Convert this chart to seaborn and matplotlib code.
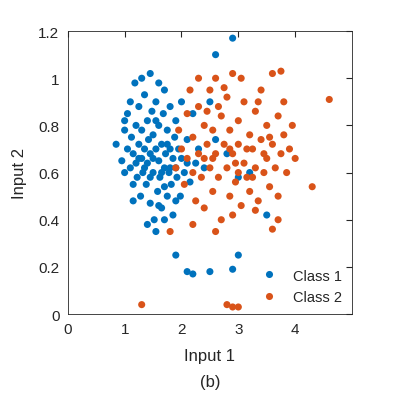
import matplotlib
matplotlib.use("Agg")
import matplotlib.pyplot as plt
import seaborn as sns
import pandas as pd

c1_x = [0.85,0.95,1.0,1.0,1.05,1.05,1.1,1.1,1.12,1.15,1.15,1.18,1.2,1.2,1.22,1.25,1.25,1.28,1.3,1.3,1.32,1.35,1.35,1.38,1.4,1.4,1.42,1.45,1.45,1.48,1.5,1.5,1.52,1.55,1.55,1.58,1.6,1.6,1.62,1.65,1.65,1.68,1.7,1.7,1.72,1.75,1.75,1.78,1.8,1.8,1.82,1.85,1.85,1.88,1.9,1.9,1.92,1.95,1.98,2.0,2.0,2.05,2.1,2.15,2.2,2.25,1.3,1.45,1.6,1.0,1.15,1.4,1.55,1.7,1.6,1.35,1.5,1.65,1.75,1.45,1.25,1.55,1.7,1.9,1.8,2.1,2.3,2.4,2.6,2.8,3.0,3.2,2.5,1.9,2.1,2.2,2.5,2.9,3.0,2.9,2.6,3.5]
c1_y = [0.72,0.65,0.78,0.60,0.85,0.70,0.62,0.90,0.75,0.55,0.68,0.98,0.80,0.64,0.58,0.72,0.88,0.50,0.66,0.78,0.60,0.93,0.70,0.55,0.82,0.64,0.74,0.47,0.68,0.86,0.60,0.76,0.40,0.70,0.90,0.52,0.65,0.80,0.58,0.72,0.45,0.85,0.62,0.95,0.68,0.50,0.78,0.60,0.70,0.88,0.55,0.66,0.42,0.75,0.62,0.82,0.58,0.70,0.50,0.66,0.90,0.60,0.74,0.56,0.85,0.64,1.0,1.02,0.98,0.82,0.48,0.38,0.35,0.40,0.46,0.62,0.66,0.60,0.72,0.58,0.66,0.82,0.54,0.48,0.62,0.64,0.70,0.62,0.74,0.68,0.58,0.60,0.90,0.25,0.18,0.17,0.18,0.19,0.25,1.17,1.10,0.42]
c2_x = [1.9,1.95,2.0,2.05,2.1,2.1,2.15,2.2,2.2,2.25,2.3,2.3,2.35,2.4,2.4,2.45,2.5,2.5,2.55,2.55,2.6,2.6,2.65,2.7,2.7,2.75,2.8,2.8,2.85,2.85,2.9,2.9,2.95,3.0,3.0,3.05,3.1,3.1,3.15,3.2,3.2,3.25,3.3,3.3,3.35,3.4,3.4,3.45,3.5,3.5,3.55,3.6,3.6,3.65,3.7,3.7,3.75,3.8,3.85,3.9,3.95,4.0,3.7,3.6,2.6,2.2,1.8,2.45,2.75,3.05,3.35,2.3,2.65,2.95,3.15,3.25,2.85,2.55,3.45,3.55,2.4,3.0,3.8,3.3,2.9,4.6,4.3,1.3,2.8,2.9,3.0,3.75]
c2_y = [0.62,0.78,0.70,0.55,0.85,0.66,0.95,0.60,0.75,0.48,0.88,0.68,0.58,0.80,0.45,0.72,0.62,0.95,0.52,0.78,0.68,1.0,0.58,0.84,0.40,0.72,0.62,0.92,0.50,0.78,0.68,1.02,0.56,0.82,0.72,0.46,0.64,0.90,0.58,0.76,0.52,0.70,0.86,0.62,0.48,0.74,0.95,0.60,0.80,0.66,0.54,0.72,1.02,0.62,0.84,0.50,0.68,0.76,0.60,0.70,0.80,0.66,0.40,0.36,0.35,0.38,0.35,0.86,0.96,1.0,0.9,1.0,0.88,0.64,0.70,0.58,0.70,0.66,0.68,0.75,0.66,0.60,0.90,0.44,0.42,0.91,0.54,0.04,0.04,0.03,0.03,1.03]

df = pd.DataFrame({
    "x": c1_x + c2_x,
    "y": c1_y + c2_y,
    "cls": ["Class 1"] * len(c1_x) + ["Class 2"] * len(c2_x),
})

sns.set_style("white")
plt.rcParams["font.family"] = ["Liberation Sans", "DejaVu Sans"]
fig = plt.figure(figsize=(4.06, 4.06), dpi=100)
ax = fig.add_axes([0.167, 0.224, 0.70, 0.697])
sns.scatterplot(data=df, x="x", y="y", hue="cls", palette=["#0072BD", "#D95319"],
                s=26, linewidth=0, ax=ax)
ax.set_xlim(0, 5)
ax.set_ylim(0, 1.2)
ax.set_xticks([0, 1, 2, 3, 4])
ax.set_yticks([0, 0.2, 0.4, 0.6, 0.8, 1.0, 1.2])
ax.set_yticklabels(["0", "0.2", "0.4", "0.6", "0.8", "1", "1.2"])
ax.tick_params(direction="in", length=4, labelsize=11, top=True, right=True,
               colors="#262626", pad=6)
for s in ax.spines.values():
    s.set_color("#262626")
    s.set_linewidth(0.6)
ax.set_xlabel("Input 1", fontsize=12, labelpad=8)
ax.set_ylabel("Input 2", fontsize=12, labelpad=8)
leg = ax.legend(loc="lower right", frameon=False, fontsize=10.5, handletextpad=0.6,
                markerscale=1.0, borderaxespad=0.3)
fig.text(0.517, 0.057, "(b)", ha="center", va="center", fontsize=12)
fig.savefig("out.png", dpi=100)
